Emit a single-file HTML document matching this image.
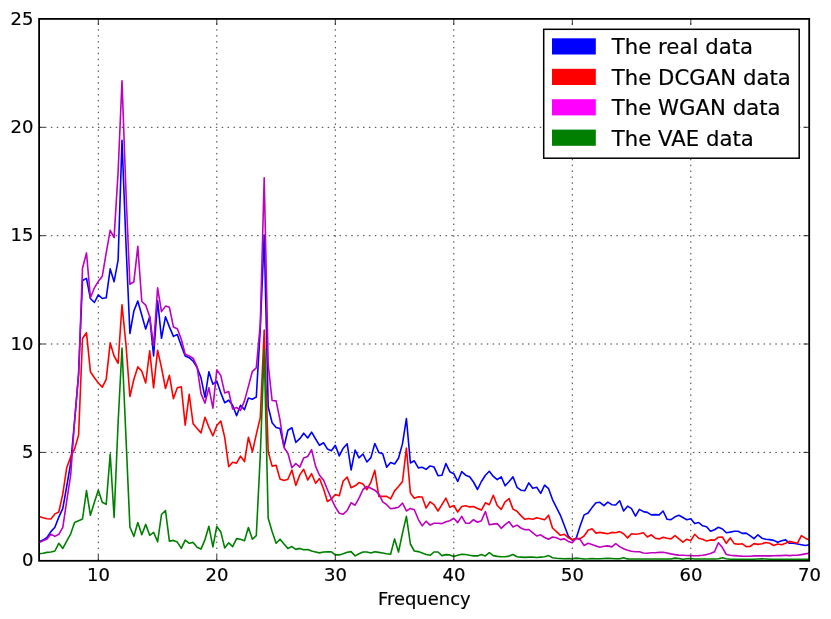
<!DOCTYPE html>
<html><head><meta charset="utf-8"><title>Frequency plot</title>
<style>html,body{margin:0;padding:0;background:#fff;}svg{display:block;}text{font-family:"DejaVu Sans","Liberation Sans",sans-serif;fill:#000;stroke:#000;stroke-width:0.2px;}</style></head><body>
<svg width="831" height="619" viewBox="0 0 831 619">
<rect x="0" y="0" width="831" height="619" fill="#fff"/>
<defs><clipPath id="ax"><rect x="39.1" y="18.9" width="770.1" height="541.9"/></clipPath></defs>
<g stroke="#000" stroke-width="0.78" stroke-dasharray="1.47 4.42" fill="none"><line x1="98.3" y1="560.8" x2="98.3" y2="18.9"/><line x1="216.8" y1="560.8" x2="216.8" y2="18.9"/><line x1="335.3" y1="560.8" x2="335.3" y2="18.9"/><line x1="453.8" y1="560.8" x2="453.8" y2="18.9"/><line x1="572.3" y1="560.8" x2="572.3" y2="18.9"/><line x1="690.8" y1="560.8" x2="690.8" y2="18.9"/><line x1="39.1" y1="452.4" x2="809.2" y2="452.4"/><line x1="39.1" y1="344.0" x2="809.2" y2="344.0"/><line x1="39.1" y1="235.7" x2="809.2" y2="235.7"/><line x1="39.1" y1="127.3" x2="809.2" y2="127.3"/></g>
<g clip-path="url(#ax)">
<polyline points="39.1,541.8 43.0,540.1 47.0,537.5 50.9,531.6 54.9,527.3 58.8,517.1 62.8,508.4 66.7,486.5 70.7,463.0 74.6,421.0 78.6,374.0 82.5,280.5 86.5,278.4 90.4,298.5 94.4,302.5 98.3,294.9 102.3,298.5 106.2,297.8 110.2,268.9 114.1,281.7 118.1,260.2 122.0,140.4 126.0,244.2 129.9,333.5 133.9,310.9 137.8,301.0 141.8,315.3 145.7,329.1 149.7,316.7 153.6,356.0 157.6,300.7 161.5,338.3 165.5,316.7 169.4,326.9 173.4,336.4 177.3,334.5 181.3,345.8 185.2,356.0 189.2,357.7 193.1,361.1 197.1,367.6 201.0,377.8 205.0,397.3 208.9,371.7 212.9,384.2 216.8,381.0 220.8,392.9 224.7,402.7 228.7,400.2 232.6,405.3 236.6,415.7 240.5,405.3 244.5,409.6 248.4,398.0 252.4,399.2 256.3,397.0 260.3,328.0 264.2,235.0 268.2,406.7 272.1,422.7 276.1,427.4 280.0,428.5 284.0,446.7 287.9,430.3 291.9,427.8 295.8,442.4 299.8,438.7 303.7,433.2 307.7,438.0 311.6,432.2 315.6,439.0 319.5,445.3 323.5,442.8 327.4,448.9 331.4,450.7 335.3,445.3 339.3,455.9 343.2,448.2 347.2,443.8 351.1,470.0 355.1,450.1 359.0,457.9 363.0,454.0 366.9,462.0 370.9,457.6 374.8,443.5 378.8,452.4 382.7,453.8 386.7,467.2 390.6,462.5 394.6,464.0 398.5,458.2 402.5,443.6 406.4,418.6 410.4,463.0 414.3,460.8 418.3,467.9 422.2,467.3 426.1,469.4 430.1,465.9 434.0,466.9 438.0,475.6 441.9,475.2 445.9,463.6 449.8,471.7 453.8,473.7 457.7,481.5 461.7,471.7 465.6,475.2 469.6,476.8 473.5,482.0 477.5,489.5 481.4,481.5 485.4,475.2 489.3,471.3 493.3,476.4 497.2,479.6 501.2,476.8 505.1,485.8 509.1,481.5 513.0,476.8 517.0,487.3 520.9,490.2 524.9,490.6 528.8,482.9 532.8,488.3 536.7,487.3 540.7,493.4 544.6,485.1 548.6,488.7 552.5,499.6 556.5,507.6 560.4,515.3 564.4,525.8 568.3,536.0 572.3,540.1 576.2,538.2 580.2,525.8 584.1,514.9 588.1,513.0 592.0,507.6 596.0,502.8 599.9,502.3 603.9,505.7 607.8,502.1 611.8,504.7 615.7,505.0 619.7,500.8 623.6,511.0 627.6,506.2 631.5,508.7 635.5,516.1 639.4,509.4 643.4,511.6 647.3,512.4 651.3,514.9 655.2,514.6 659.2,514.9 663.1,511.0 667.1,519.3 671.0,519.6 675.0,516.8 678.9,515.3 682.9,517.5 686.8,519.7 690.8,518.8 694.7,523.6 698.7,522.5 702.6,525.8 706.6,526.8 710.5,531.3 714.5,529.7 718.4,527.3 722.4,529.0 726.3,532.8 730.3,532.1 734.2,531.2 738.2,531.3 742.1,533.4 746.1,533.1 750.0,535.6 754.0,538.6 757.9,534.8 761.9,538.2 765.8,539.2 769.8,539.6 773.7,540.4 777.7,542.3 781.6,540.8 785.6,539.9 789.5,543.3 793.5,543.3 797.4,544.0 801.4,544.7 805.3,545.5 809.2,544.7" fill="none" stroke="#0000ff" stroke-width="1.6" stroke-linejoin="round" stroke-linecap="butt"/>
<polyline points="39.1,516.4 43.0,517.8 47.0,518.8 50.9,519.0 54.9,513.9 58.8,512.0 62.8,493.8 66.7,467.8 70.7,456.9 74.6,448.9 78.6,435.1 82.5,338.5 86.5,332.7 90.4,371.7 94.4,377.8 98.3,383.0 102.3,387.1 106.2,379.3 110.2,342.9 114.1,356.0 118.1,363.3 122.0,304.8 126.0,345.0 129.9,396.5 133.9,379.3 137.8,366.9 141.8,371.3 145.7,383.0 149.7,350.9 153.6,387.8 157.6,350.2 161.5,367.6 165.5,388.5 169.4,375.3 173.4,398.7 177.3,387.8 181.3,386.7 185.2,425.2 189.2,394.4 193.1,423.7 197.1,428.5 201.0,432.9 205.0,417.3 208.9,427.1 212.9,435.8 216.8,425.6 220.8,421.0 224.7,437.3 228.7,466.7 232.6,462.3 236.6,463.2 240.5,456.2 244.5,461.6 248.4,437.3 252.4,451.8 256.3,434.4 260.3,417.6 264.2,330.1 268.2,451.8 272.1,466.1 276.1,465.2 280.0,479.0 284.0,480.4 287.9,479.3 291.9,470.0 295.8,485.4 299.8,474.9 303.7,469.3 307.7,480.0 311.6,473.7 315.6,483.3 319.5,478.5 323.5,488.7 327.4,501.5 331.4,498.9 335.3,494.5 339.3,495.7 343.2,481.0 347.2,477.1 351.1,487.7 355.1,485.8 359.0,482.6 363.0,483.9 366.9,489.7 370.9,482.2 374.8,470.3 378.8,496.4 382.7,496.4 386.7,496.4 390.6,498.9 394.6,490.9 398.5,486.5 402.5,481.5 406.4,448.0 410.4,493.1 414.3,498.2 418.3,496.7 422.2,497.0 426.1,508.1 430.1,501.8 434.0,504.7 438.0,511.0 441.9,504.7 445.9,498.2 449.8,507.3 453.8,505.5 457.7,512.0 461.7,506.5 465.6,505.7 469.6,506.9 473.5,506.6 477.5,508.4 481.4,510.1 485.4,502.8 489.3,504.7 493.3,495.3 497.2,505.5 501.2,509.4 505.1,501.8 509.1,498.6 513.0,509.1 517.0,511.3 520.9,515.6 524.9,519.3 528.8,518.5 532.8,519.3 536.7,517.8 540.7,518.8 544.6,519.7 548.6,515.2 552.5,528.0 556.5,531.6 560.4,535.3 564.4,534.3 568.3,537.7 572.3,539.6 576.2,538.5 580.2,538.6 584.1,536.0 588.1,530.2 592.0,528.7 596.0,533.1 599.9,532.4 603.9,533.1 607.8,533.8 611.8,532.4 615.7,532.8 619.7,531.6 623.6,533.8 627.6,537.9 631.5,533.8 635.5,534.3 639.4,533.8 643.4,532.8 647.3,537.0 651.3,534.8 655.2,538.2 659.2,538.9 663.1,537.2 667.1,538.2 671.0,538.9 675.0,535.7 678.9,538.9 682.9,542.1 686.8,539.2 690.8,540.7 694.7,534.3 698.7,538.2 702.6,539.2 706.6,541.1 710.5,539.9 714.5,540.1 718.4,537.2 722.4,537.0 726.3,543.3 730.3,537.9 734.2,543.6 738.2,544.3 742.1,543.7 746.1,546.6 750.0,546.5 754.0,543.6 757.9,544.4 761.9,543.7 765.8,542.5 769.8,543.3 773.7,545.5 777.7,544.0 781.6,544.7 785.6,543.3 789.5,541.4 793.5,542.3 797.4,543.3 801.4,535.6 805.3,538.2 809.2,539.9" fill="none" stroke="#ff0000" stroke-width="1.6" stroke-linejoin="round" stroke-linecap="butt"/>
<polyline points="39.1,542.5 43.0,540.7 47.0,538.9 50.9,534.3 54.9,536.4 58.8,534.3 62.8,527.3 66.7,501.1 70.7,475.0 74.6,421.0 78.6,374.0 82.5,268.2 86.5,252.9 90.4,297.8 94.4,287.8 98.3,281.3 102.3,276.2 106.2,252.9 110.2,230.4 114.1,237.6 118.1,172.0 122.0,80.9 126.0,193.0 129.9,284.2 133.9,281.7 137.8,246.4 141.8,301.5 145.7,305.1 149.7,316.7 153.6,345.8 157.6,287.8 161.5,311.6 165.5,306.1 169.4,307.3 173.4,326.9 177.3,328.7 181.3,339.3 185.2,354.3 189.2,356.0 193.1,358.2 197.1,366.9 201.0,393.6 205.0,403.1 208.9,387.8 212.9,408.2 216.8,369.8 220.8,375.6 224.7,392.9 228.7,391.5 232.6,408.9 236.6,407.5 240.5,410.4 244.5,400.9 248.4,386.4 252.4,371.3 256.3,367.9 260.3,324.0 264.2,177.7 268.2,364.7 272.1,400.5 276.1,400.9 280.0,419.8 284.0,447.5 287.9,453.3 291.9,467.8 295.8,463.5 299.8,467.1 303.7,457.9 307.7,456.5 311.6,449.6 315.6,466.4 319.5,475.2 323.5,480.0 327.4,489.5 331.4,498.9 335.3,506.9 339.3,513.2 343.2,514.2 347.2,510.5 351.1,502.8 355.1,505.2 359.0,498.2 363.0,489.5 366.9,486.5 370.9,488.3 374.8,490.2 378.8,493.8 382.7,501.8 386.7,504.7 390.6,508.8 394.6,508.1 398.5,507.2 402.5,503.0 406.4,511.0 410.4,508.4 414.3,509.8 418.3,519.3 422.2,525.8 426.1,521.2 430.1,525.1 434.0,523.3 438.0,523.2 441.9,523.6 445.9,521.7 449.8,520.7 453.8,518.3 457.7,522.6 461.7,516.4 465.6,523.2 469.6,523.2 473.5,519.7 477.5,522.2 481.4,520.7 485.4,511.6 489.3,524.7 493.3,524.1 497.2,523.6 501.2,528.3 505.1,524.7 509.1,521.7 513.0,527.0 517.0,525.1 520.9,528.0 524.9,529.7 528.8,529.5 532.8,532.8 536.7,536.0 540.7,534.8 544.6,537.5 548.6,539.2 552.5,537.0 556.5,537.7 560.4,539.6 564.4,538.9 568.3,541.4 572.3,542.8 576.2,538.2 580.2,539.6 584.1,545.5 588.1,543.3 592.0,544.4 596.0,545.9 599.9,547.3 603.9,546.2 607.8,545.9 611.8,546.9 615.7,543.7 619.7,546.6 623.6,548.8 627.6,550.3 631.5,551.3 635.5,551.7 639.4,551.7 643.4,553.0 647.3,553.2 651.3,552.7 655.2,552.7 659.2,552.4 663.1,552.3 667.1,553.0 671.0,553.9 675.0,554.6 678.9,555.1 682.9,555.2 686.8,555.5 690.8,555.6 694.7,555.8 698.7,555.6 702.6,555.2 706.6,554.6 710.5,553.5 714.5,551.7 718.4,542.8 722.4,547.6 726.3,554.5 730.3,555.3 734.2,555.6 738.2,555.9 742.1,556.1 746.1,556.2 750.0,556.2 754.0,555.9 757.9,555.8 761.9,555.9 765.8,555.9 769.8,555.9 773.7,555.8 777.7,555.6 781.6,555.6 785.6,555.3 789.5,555.6 793.5,555.3 797.4,555.3 801.4,554.6 805.3,553.9 809.2,553.2" fill="none" stroke="#bf00bf" stroke-width="1.6" stroke-linejoin="round" stroke-linecap="butt"/>
<polyline points="39.1,553.7 43.0,553.2 47.0,552.4 50.9,552.0 54.9,551.0 58.8,543.3 62.8,548.4 66.7,541.1 70.7,533.8 74.6,522.5 78.6,520.7 82.5,519.0 86.5,490.6 90.4,515.3 94.4,502.3 98.3,490.2 102.3,502.3 106.2,504.3 110.2,454.0 114.1,517.4 118.1,422.7 122.0,348.0 126.0,438.0 129.9,527.0 133.9,536.4 137.8,522.5 141.8,534.8 145.7,524.4 149.7,535.3 153.6,532.4 157.6,541.8 161.5,514.5 165.5,510.5 169.4,541.1 173.4,540.4 177.3,542.1 181.3,548.4 185.2,540.1 189.2,543.3 193.1,542.4 197.1,547.3 201.0,549.1 205.0,539.6 208.9,526.3 212.9,546.9 216.8,526.5 220.8,531.9 224.7,547.9 228.7,542.8 232.6,546.6 236.6,538.6 240.5,539.2 244.5,540.7 248.4,527.6 252.4,539.2 256.3,535.6 260.3,455.0 264.2,349.5 268.2,518.3 272.1,531.6 276.1,543.3 280.0,539.2 284.0,544.0 287.9,548.4 291.9,546.6 295.8,549.4 299.8,548.4 303.7,549.8 307.7,549.5 311.6,551.0 315.6,552.0 319.5,552.9 323.5,552.0 327.4,551.9 331.4,551.9 335.3,554.9 339.3,554.9 343.2,553.7 347.2,552.3 351.1,551.6 355.1,555.9 359.0,553.7 363.0,552.0 366.9,552.0 370.9,553.0 374.8,551.7 378.8,552.4 382.7,553.0 386.7,553.7 390.6,554.2 394.6,538.9 398.5,552.0 402.5,533.1 406.4,516.4 410.4,544.0 414.3,551.0 418.3,551.6 422.2,553.0 426.1,554.5 430.1,555.3 434.0,552.0 438.0,552.0 441.9,555.6 445.9,554.6 449.8,554.9 453.8,556.4 457.7,555.2 461.7,554.2 465.6,554.5 469.6,555.3 473.5,555.9 477.5,555.9 481.4,554.6 485.4,555.9 489.3,552.7 493.3,555.6 497.2,556.4 501.2,556.8 505.1,556.8 509.1,556.1 513.0,554.5 517.0,556.8 520.9,557.1 524.9,557.4 528.8,557.1 532.8,557.1 536.7,557.5 540.7,557.1 544.6,556.7 548.6,555.6 552.5,557.8 556.5,558.3 560.4,558.5 564.4,558.8 568.3,558.5 572.3,558.8 576.2,558.1 580.2,558.5 584.1,559.0 588.1,558.8 592.0,558.5 596.0,558.8 599.9,558.8 603.9,558.5 607.8,558.3 611.8,558.5 615.7,558.7 619.7,558.8 623.6,557.8 627.6,559.0 631.5,559.0 635.5,559.0 639.4,559.0 643.4,559.0 647.3,559.0 651.3,559.0 655.2,559.0 659.2,559.0 663.1,559.0 667.1,559.0 671.0,559.0 675.0,558.1 678.9,558.5 682.9,559.3 686.8,558.7 690.8,558.5 694.7,559.0 698.7,559.0 702.6,559.0 706.6,559.0 710.5,559.0 714.5,559.0 718.4,558.7 722.4,557.8 726.3,558.8 730.3,559.3 734.2,559.3 738.2,559.3 742.1,559.3 746.1,559.3 750.0,559.3 754.0,559.3 757.9,559.0 761.9,558.7 765.8,559.0 769.8,559.3 773.7,559.3 777.7,559.3 781.6,559.3 785.6,559.3 789.5,559.3 793.5,559.3 797.4,559.3 801.4,559.3 805.3,559.3 809.2,559.3" fill="none" stroke="#008000" stroke-width="1.6" stroke-linejoin="round" stroke-linecap="butt"/>
</g>
<g stroke="#000" stroke-width="0.8" fill="none"><line x1="98.3" y1="560.8" x2="98.3" y2="554.9"/><line x1="98.3" y1="18.9" x2="98.3" y2="24.8"/><line x1="216.8" y1="560.8" x2="216.8" y2="554.9"/><line x1="216.8" y1="18.9" x2="216.8" y2="24.8"/><line x1="335.3" y1="560.8" x2="335.3" y2="554.9"/><line x1="335.3" y1="18.9" x2="335.3" y2="24.8"/><line x1="453.8" y1="560.8" x2="453.8" y2="554.9"/><line x1="453.8" y1="18.9" x2="453.8" y2="24.8"/><line x1="572.3" y1="560.8" x2="572.3" y2="554.9"/><line x1="572.3" y1="18.9" x2="572.3" y2="24.8"/><line x1="690.8" y1="560.8" x2="690.8" y2="554.9"/><line x1="690.8" y1="18.9" x2="690.8" y2="24.8"/><line x1="39.1" y1="452.4" x2="45.0" y2="452.4"/><line x1="809.2" y1="452.4" x2="803.4" y2="452.4"/><line x1="39.1" y1="344.0" x2="45.0" y2="344.0"/><line x1="809.2" y1="344.0" x2="803.4" y2="344.0"/><line x1="39.1" y1="235.7" x2="45.0" y2="235.7"/><line x1="809.2" y1="235.7" x2="803.4" y2="235.7"/><line x1="39.1" y1="127.3" x2="45.0" y2="127.3"/><line x1="809.2" y1="127.3" x2="803.4" y2="127.3"/></g>
<rect x="39.1" y="18.9" width="770.1" height="541.9" fill="none" stroke="#000" stroke-width="1.8"/>
<text x="98.4" y="580.7" font-size="18" text-anchor="middle">10</text>
<text x="216.9" y="580.7" font-size="18" text-anchor="middle">20</text>
<text x="335.4" y="580.7" font-size="18" text-anchor="middle">30</text>
<text x="453.9" y="580.7" font-size="18" text-anchor="middle">40</text>
<text x="572.4" y="580.7" font-size="18" text-anchor="middle">50</text>
<text x="690.9" y="580.7" font-size="18" text-anchor="middle">60</text>
<text x="809.4" y="580.7" font-size="18" text-anchor="middle">70</text>
<text x="33.4" y="566.4" font-size="18" text-anchor="end">0</text>
<text x="33.4" y="458.0" font-size="18" text-anchor="end">5</text>
<text x="33.4" y="349.6" font-size="18" text-anchor="end">10</text>
<text x="33.4" y="241.3" font-size="18" text-anchor="end">15</text>
<text x="33.4" y="132.9" font-size="18" text-anchor="end">20</text>
<text x="33.4" y="24.5" font-size="18" text-anchor="end">25</text>
<text x="424.3" y="605.0" font-size="17.95" text-anchor="middle">Frequency</text>
<rect x="543.7" y="29.3" width="255.5" height="128.9" fill="#fff" stroke="#000" stroke-width="1.5"/>
<rect x="552" y="38.3" width="43.8" height="16.2" fill="#0000ff"/>
<text x="611.7" y="54.0" font-size="21.2" stroke-width="0.3" letter-spacing="0.05">The real data</text>
<rect x="552" y="68.8" width="43.8" height="16.2" fill="#ff0000"/>
<text x="611.7" y="84.9" font-size="21.2" stroke-width="0.3" letter-spacing="0.05">The DCGAN data</text>
<rect x="552" y="99.2" width="43.8" height="16.2" fill="#ff00ff"/>
<text x="611.7" y="115.0" font-size="21.2" stroke-width="0.3" letter-spacing="0.05">The WGAN data</text>
<rect x="552" y="129.6" width="43.8" height="16.2" fill="#008000"/>
<text x="611.7" y="145.9" font-size="21.2" stroke-width="0.3" letter-spacing="0.05">The VAE data</text>
</svg></body></html>
